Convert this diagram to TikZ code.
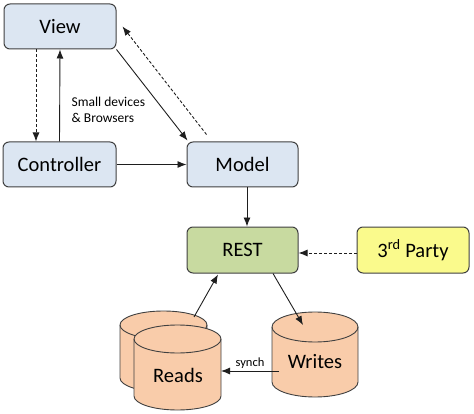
\documentclass[tikz,border=0pt]{standalone}
\usepackage{fontspec}
\setmainfont{Carlito}
\usetikzlibrary{arrows.meta}
\definecolor{boxblue}{HTML}{DCE6F2}
\definecolor{restgreen}{HTML}{C8DAA0}
\definecolor{partyyellow}{HTML}{FAFA8C}
\definecolor{cylpeach}{HTML}{F9CCAA}
\definecolor{edgegray}{HTML}{404040}
\definecolor{linegray}{HTML}{1E1E1E}
\begin{document}
\begin{tikzpicture}[x=1pt,y=1pt,
  box/.style={draw=edgegray, line width=1pt, rounded corners=6pt, minimum width=112pt, minimum height=45pt, inner sep=0pt, font=\fontsize{20.5}{24}\selectfont, fill=boxblue},
  arr/.style={draw=linegray, line width=0.9pt, -{Latex[length=9pt,width=7pt]}},
  dsh/.style={arr, dash pattern=on 3pt off 2pt},
  cyl/.style={draw=edgegray, line width=0.9pt, fill=cylpeach},
  rim/.style={draw=edgegray, line width=0.9pt},
  big/.style={font=\fontsize{20.5}{24}\selectfont, inner sep=0pt},
  lbl/.style={font=\fontsize{13.5}{16.5}\selectfont, inner sep=0pt}]
\useasboundingbox (0,0) rectangle (474,413);

% boxes
\node[box] (view) at (60,386.5) {View};
\node[box, minimum width=113pt] (ctrl) at (59.5,248.5) {Controller};
\node[box, minimum width=111pt] (model) at (242.5,248.5) {Model};
\node[box, minimum width=111pt, minimum height=46pt, fill=restgreen] (rest) at (242.5,163) {REST};
\node[box, minimum height=46pt, fill=partyyellow] (third) at (413,163) {3\textsuperscript{rd} Party};

% cylinders
\path[cyl] (120,88) -- (120,35) arc[start angle=180,end angle=360,x radius=43.5,y radius=14] -- (207,88) arc[start angle=0,end angle=180,x radius=43.5,y radius=14] -- cycle;
\path[rim] (120,88) arc[start angle=180,end angle=360,x radius=43.5,y radius=14];
\path[cyl] (134,74) -- (134,17) arc[start angle=180,end angle=360,x radius=43.5,y radius=14] -- (221,74) arc[start angle=0,end angle=180,x radius=43.5,y radius=14] -- cycle;
\path[rim] (134,74) arc[start angle=180,end angle=360,x radius=43.5,y radius=14];
\path[cyl] (272,86) -- (272,31) arc[start angle=180,end angle=360,x radius=43,y radius=15] -- (358,86) arc[start angle=0,end angle=180,x radius=43,y radius=15] -- cycle;
\path[rim] (272,86) arc[start angle=180,end angle=360,x radius=43,y radius=15];

\node[big] (reads) at (178,38) {Reads};
\node[big] (writes) at (315,51) {Writes};

\coordinate (readstop) at (194,96);
\coordinate (writestop) at (303,88);
\coordinate (synchstart) at (279,42);
\coordinate (readsright) at (221,42);

% labels
\node[lbl, anchor=west, align=left] (small) at (71.5,303) {Small devices\\\& Browsers};
\node[lbl, font=\fontsize{12.5}{15}\selectfont] (synch) at (250,50) {synch};

% connectors
\draw[dsh] ([xshift=-24pt]view.south) -- ([xshift=-23.5pt]ctrl.north);
\draw[arr] (ctrl.north) -- (view.south);
\draw[arr] (view.south east) -- ([xshift=1pt,yshift=1pt]model.north west);
\draw[dsh] ([xshift=20pt,yshift=7pt]model.north west) -- ([xshift=6pt]view.east);
\draw[arr] (ctrl.east) -- (model.west);
\draw[arr] ([xshift=4.5pt]model.south) -- ([xshift=4.5pt]rest.north);
\draw[dsh] ([yshift=-3pt]third.west) -- ([yshift=-3pt]rest.east);
\draw[arr] (readstop) -- ([xshift=-24.5pt,yshift=-1pt]rest.south);
\draw[arr] ([xshift=30.5pt]rest.south) -- (writestop);
\draw[arr] (synchstart) -- (readsright);
\end{tikzpicture}
\end{document}
